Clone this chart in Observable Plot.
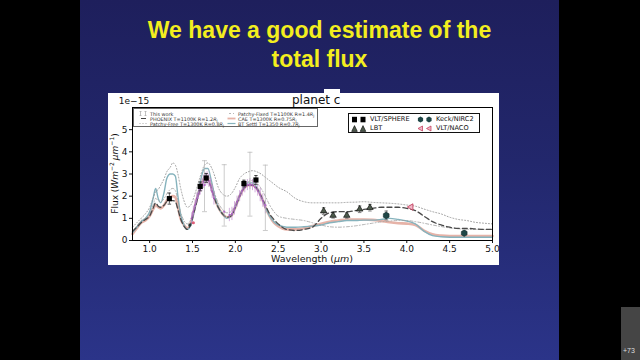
<!DOCTYPE html>
<html>
<head>
<meta charset="utf-8">
<script src="https://cdn.jsdelivr.net/npm/d3@7"></script>
<script src="https://cdn.jsdelivr.net/npm/@observablehq/plot@0.6"></script>
<style>
  html, body { margin: 0; padding: 0; }
  body { width: 640px; height: 360px; background: #000; overflow: hidden; position: relative; font-family: "DejaVu Sans", sans-serif; }
  #slide { position: absolute; left: 80px; top: 0; width: 479px; height: 360px;
           background: linear-gradient(180deg, #1e1f5c 0%, #22276c 45%, #2b3489 100%); }
  #title { position: absolute; left: 80px; width: 479px; top: 16px; text-align: center;
           font-family: "Liberation Sans", Arial, sans-serif; font-weight: bold; font-size: 23px;
           line-height: 29px; color: #f3ee1e; }
  #chart { position: absolute; left: 108px; top: 93px; width: 391px; height: 172px; background: #fff; }
  #tab { position: absolute; left: 324px; top: 89px; width: 16px; height: 6px; background: #fff; }
  #planet { position: absolute; left: 184px; top: 0px; font-size: 12px; color: #111; }
  .legend { position: absolute; background: #fff; box-sizing: border-box; }
  #legA { left: 25px; top: 15px; width: 185px; height: 19px; border: 1px solid #666; font-size: 4.9px; color: #333; }
  #legB { left: 240px; top: 20px; width: 132px; height: 20px; border: 1px solid #111; font-size: 6.6px; color: #111; }
  .item { position: absolute; white-space: nowrap; display: flex; align-items: center; }
  .item svg { margin-right: 2px; flex: none; }
  #tile { position: absolute; left: 621px; top: 307px; width: 19px; height: 53px; background: #454545; }
  #count { position: absolute; left: 623px; top: 347px; font-size: 7px; color: #ddd; font-family: "Liberation Sans", sans-serif; }
</style>
</head>
<body>
<div id="slide"></div>
<div id="title">We have a good estimate of the<br>total flux</div>
<div id="tab"></div>
<div id="chart"></div>
<div id="tile"></div>
<div id="count">+73</div>
<script>
// Model wavelength grid (micron) shared by all synthetic spectra
const wl = [0.80,0.85,0.90,0.95,1.00,1.04,1.07,1.10,1.13,1.17,1.20,1.24,1.27,1.30,1.33,1.36,1.40,1.44,1.48,1.52,1.56,1.60,1.64,1.68,1.72,1.76,1.80,1.85,1.90,1.95,2.00,2.05,2.10,2.15,2.20,2.25,2.30,2.35,2.40,2.45,2.50,2.60,2.70,2.80,2.90,3.00,3.10,3.20,3.30,3.40,3.50,3.60,3.70,3.80,3.90,4.00,4.10,4.20,4.30,4.40,4.50,4.60,4.70,4.80,4.90,5.00];

// Model fluxes (units of 1e-15 W m^-2 um^-1)
const btSettl = [0.35,0.6,0.85,1.0,1.3,1.9,2.35,1.9,1.7,2.2,2.8,3.0,3.0,2.9,2.0,1.2,0.7,0.5,0.7,1.3,2.0,2.8,3.25,3.25,2.7,2.0,1.5,1.2,1.0,1.1,1.5,2.0,2.4,2.6,2.6,2.4,2.0,1.5,1.1,0.85,0.7,0.6,0.6,0.62,0.65,0.7,0.8,0.85,0.9,0.9,0.92,0.92,0.95,1.0,0.95,0.88,0.75,0.42,0.22,0.17,0.15,0.15,0.15,0.15,0.15,0.15];
const cae = [0.3,0.55,0.8,0.9,1.1,1.4,1.6,1.5,1.45,1.6,1.8,1.95,2.0,1.95,1.5,1.0,0.7,0.55,0.8,1.4,2.0,2.5,2.75,2.75,2.4,1.9,1.5,1.2,1.05,1.1,1.5,2.0,2.35,2.5,2.5,2.35,2.0,1.5,1.1,0.8,0.65,0.5,0.5,0.55,0.65,0.75,0.85,0.9,0.95,0.95,0.95,0.93,0.88,0.82,0.78,0.76,0.7,0.45,0.28,0.22,0.2,0.2,0.2,0.2,0.2,0.2];
const phoenix = [0.4,0.6,0.8,0.95,1.1,1.45,1.7,1.55,1.5,1.6,1.75,1.8,1.8,1.75,1.4,1.0,0.65,0.5,0.75,1.3,1.9,2.45,2.7,2.7,2.35,1.85,1.5,1.2,1.05,1.1,1.5,2.0,2.35,2.5,2.5,2.35,2.0,1.6,1.2,0.95,0.75,0.5,0.45,0.5,0.6,1.0,1.25,1.3,1.3,1.35,1.4,1.45,1.5,1.5,1.5,1.45,1.35,1.1,0.85,0.7,0.6,0.55,0.55,0.52,0.5,0.5];
const patchyFree = [0.6,0.8,1.0,1.2,1.5,1.9,2.2,2.3,2.5,2.8,3.1,3.3,3.5,3.4,3.0,2.4,1.8,1.5,1.6,2.0,2.5,3.0,3.4,3.5,3.3,2.9,2.4,2.1,2.0,2.1,2.4,2.8,3.0,3.1,3.15,3.1,3.0,2.85,2.7,2.55,2.4,2.2,1.9,1.75,1.7,1.7,1.7,1.7,1.72,1.73,1.75,1.72,1.7,1.68,1.65,1.6,1.55,1.42,1.3,1.2,1.05,0.95,0.9,0.82,0.78,0.75];
const patchyFixed = [0.45,0.65,0.9,1.0,1.2,1.6,1.9,1.8,1.75,1.9,2.1,2.3,2.35,2.25,1.8,1.3,0.9,0.75,0.95,1.5,2.1,2.6,2.9,2.9,2.6,2.1,1.7,1.4,1.25,1.3,1.65,2.1,2.45,2.65,2.7,2.6,2.35,2.0,1.6,1.3,1.1,1.0,0.95,0.9,0.8,0.7,0.62,0.6,0.62,0.66,0.72,0.78,0.84,0.88,0.9,0.9,0.85,0.78,0.7,0.63,0.57,0.53,0.5,0.5,0.5,0.5];

// SPHERE IFS/IRDIS low-resolution spectrum ("This work", purple)
const specWl   = [1.49,1.51,1.53,1.55,1.57,1.59,1.61,1.63,1.65,1.67,1.69,1.71,1.73,1.75,1.93,1.96,1.99,2.02,2.05,2.08,2.11,2.14,2.17,2.20,2.23,2.26,2.29,2.32,2.35];
const specFlux = [1.0,1.3,1.6,1.9,2.1,2.3,2.5,2.65,2.75,2.8,2.7,2.5,2.2,1.9,1.15,1.2,1.45,1.75,2.0,2.25,2.4,2.5,2.55,2.5,2.4,2.25,2.05,1.8,1.5];
const specErr  = [0.25,0.25,0.25,0.25,0.25,0.25,0.3,0.3,0.3,0.3,0.3,0.3,0.3,0.3,0.3,0.3,0.3,0.25,0.25,0.25,0.25,0.25,0.25,0.25,0.25,0.25,0.3,0.3,0.3];

// Broad-band photometry of this work (grey, large uncertainties)
const bbWl   = [1.64, 1.87, 2.17, 2.35];
const bbFlux = [2.5, 1.3, 2.5, 1.6];
const bbLo   = [1.3, 0.65, 1.1, 0.45];
const bbHi   = [3.6, 3.42, 3.98, 3.4];

// Instrument photometry
const sphereWl = [1.23, 1.59, 1.66, 2.10, 2.24];
const sphereFlux = [1.89, 2.44, 2.82, 2.57, 2.73];
const sphereErr = [0.25, 0.2, 0.2, 0.15, 0.2];
const lbtWl = [3.03, 3.14, 3.30, 3.45, 3.57];
const lbtFlux = [1.33, 1.13, 1.13, 1.41, 1.48];
const lbtErr = [0.15, 0.12, 0.12, 0.15, 0.15];
const keckWl = [3.76, 4.67];
const keckFlux = [1.13, 0.33];
const keckErr = [0.2, 0.05];
const nacoWl = [4.05];
const nacoFlux = [1.51];
const nacoErr = [0.05];
// Older narrow-band points near 1.5 um
const extraWl = [1.47, 1.51];
const extraFlux = [0.7, 0.8];
const extraColor = ["#223a3a", "#e0607a"];

const xTicks = [1.0, 1.5, 2.0, 2.5, 3.0, 3.5, 4.0, 4.5, 5.0];
const yTicks = [0, 1, 2, 3, 4, 5];

const models = [
  {name: "CAE", flux: cae, stroke: "#e6b3a8", width: 2.6, dash: null},
  {name: "BT Settl", flux: btSettl, stroke: "#86b3bd", width: 1.4, dash: null},
  {name: "Patchy-Fixed", flux: patchyFixed, stroke: "#a0a0a0", width: 0.8, dash: "3,2,1,2"},
  {name: "Patchy-Free", flux: patchyFree, stroke: "#959595", width: 0.9, dash: "1,2"},
  {name: "PHOENIX", flux: phoenix, stroke: "#4a4a4a", width: 1.3, dash: "5,3"}
];

const toRows = (xs, ys) => xs.map((x, i) => ({x, y: ys[i]}));
const spec = specWl.map((x, i) => ({x, y: specFlux[i], lo: specFlux[i] - specErr[i], hi: specFlux[i] + specErr[i]}));
const bb = bbWl.map((x, i) => ({x, y: bbFlux[i], lo: bbLo[i], hi: bbHi[i]}));
const withErr = (xs, ys, es) => xs.map((x, i) => ({x, y: ys[i], lo: ys[i] - es[i], hi: ys[i] + es[i]}));
const sphere = withErr(sphereWl, sphereFlux, sphereErr);
const lbt = withErr(lbtWl, lbtFlux, lbtErr);
const keck = withErr(keckWl, keckFlux, keckErr);
const naco = withErr(nacoWl, nacoFlux, nacoErr);
const extra = extraWl.map((x, i) => ({x, y: extraFlux[i], c: extraColor[i]}));

// Horizontal error-bar cap
const cap = {draw(ctx, size) { const w = Math.sqrt(size); ctx.moveTo(-w / 2, 0); ctx.lineTo(w / 2, 0); }};
const errMarks = (data, stroke, sw = 0.8, capW = 4) => [
  Plot.ruleX(data, {x: "x", y1: "lo", y2: "hi", stroke, strokeWidth: sw}),
  Plot.dot(data, {x: "x", y: "hi", symbol: cap, r: capW / Math.sqrt(Math.PI), stroke, strokeWidth: sw, fill: "none"}),
  Plot.dot(data, {x: "x", y: "lo", symbol: cap, r: capW / Math.sqrt(Math.PI), stroke, strokeWidth: sw, fill: "none"})
];

const W = 391, H = 172;
const M = {left: 24, right: 7, top: 14, bottom: 25};

const plot = Plot.plot({
  width: W, height: H,
  marginLeft: M.left, marginRight: M.right, marginTop: M.top, marginBottom: M.bottom,
  style: {background: "transparent", fontFamily: "DejaVu Sans, sans-serif", fontSize: "9px", color: "#111"},
  x: {domain: [0.8, 5.0], ticks: xTicks, tickFormat: d3.format(".1f"), label: null, tickSize: 3, tickPadding: 2},
  y: {domain: [0, 6], ticks: yTicks, tickFormat: d3.format("d"), label: null, tickSize: 3, tickPadding: 2},
  marks: [
    ...models.map(m => Plot.line(toRows(wl, m.flux), {
      x: "x", y: "y", stroke: m.stroke, strokeWidth: m.width, strokeDasharray: m.dash, curve: "monotone-x"
    })),
    // purple spectrum with its error bars
    Plot.ruleX(spec, {x: "x", y1: "lo", y2: "hi", stroke: "#c08ad0", strokeWidth: 0.7}),
    Plot.line(spec.slice(0, 14), {x: "x", y: "y", stroke: "#b070c4", strokeWidth: 0.9}),
    Plot.line(spec.slice(14), {x: "x", y: "y", stroke: "#b070c4", strokeWidth: 0.9}),
    Plot.dot(spec, {x: "x", y: "y", r: 0.9, fill: "#a45bb8"}),
    // grey broad-band error bars
    ...errMarks(bb, "#b4b4b4", 0.7, 5),
    Plot.dot(bb, {x: "x", y: "y", r: 1.1, fill: "#b36ac6"}),
    // instrument photometry
    ...errMarks(sphere, "#111", 0.7, 3.5),
    Plot.dot(sphere, {x: "x", y: "y", symbol: "square", r: 2.9, fill: "#000"}),
    ...errMarks(lbt, "#333", 0.6, 3.5),
    Plot.dot(lbt, {x: "x", y: "y", symbol: "triangle", r: 2.4, fill: "#4d5a4c", stroke: "#000", strokeWidth: 0.6}),
    ...errMarks(keck, "#333", 0.6, 3.5),
    Plot.dot(keck, {x: "x", y: "y", symbol: "hexagon", r: 2.9, fill: "#1e4646", stroke: "#0c2020", strokeWidth: 0.5}),
    Plot.dot(naco, {x: "x", y: "y", symbol: "triangle", rotate: -90, r: 2.4, fill: "#f0b8c8", stroke: "#c03050", strokeWidth: 0.8}),
    Plot.dot(extra, {x: "x", y: "y", r: 1.6, fill: "c"}),
    Plot.frame({stroke: "#000", strokeWidth: 1})
  ]
});

const chart = document.getElementById("chart");
chart.appendChild(plot);

// Axis labels and offset text, placed in the plot's own SVG
const svg = d3.select(plot);
const fx = M.left + (W - M.left - M.right) / 2;
const fy = M.top + (H - M.top - M.bottom) / 2;
svg.append("text").attr("x", M.left + 2).attr("y", 11).attr("font-size", 9).attr("fill", "#111").text("1e\u221215");

const xl = svg.append("text").attr("x", fx).attr("y", H - 3).attr("text-anchor", "middle").attr("font-size", 9.5).attr("fill", "#111");
xl.append("tspan").text("Wavelength (");
xl.append("tspan").attr("font-style", "italic").text("\u03bcm");
xl.append("tspan").text(")");

const yl = svg.append("text").attr("transform", `translate(10,${fy}) rotate(-90)`).attr("text-anchor", "middle").attr("font-size", 9).attr("fill", "#111");
yl.append("tspan").text("Flux (");
yl.append("tspan").attr("font-style", "italic").text("Wm");
yl.append("tspan").attr("font-size", 6).attr("dy", -4).text("\u22122");
yl.append("tspan").attr("font-style", "italic").attr("dy", 4).attr("dx", 2).text("\u03bcm");
yl.append("tspan").attr("font-size", 6).attr("dy", -4).text("\u22121");
yl.append("tspan").attr("dy", 4).text(")");

// Legends
function icon(kind) {
  const s = {
    errbar: '<svg width="9" height="5"><path d="M1.5 0.5v4M0.5 0.5h2M0.5 4.5h2M6.5 0.5v4M5.5 0.5h2M5.5 4.5h2" stroke="#999" stroke-width="0.6" fill="none"/></svg>',
    dash: '<svg width="9" height="5"><path d="M2 2.5h5" stroke="#444" stroke-width="1"/></svg>',
    dots: '<svg width="9" height="5"><path d="M0.5 2.5h8" stroke="#888" stroke-width="0.7" stroke-dasharray="1,2"/></svg>',
    dashdot: '<svg width="9" height="5"><path d="M2 2.5h2M6 2.5h1" stroke="#999" stroke-width="0.7"/></svg>',
    pink: '<svg width="9" height="5"><path d="M0.5 2.5h8" stroke="#e6b3a8" stroke-width="1.8"/></svg>',
    teal: '<svg width="9" height="5"><path d="M0.5 2.5h8" stroke="#86b3bd" stroke-width="1.2"/></svg>',
    square: '<svg width="17" height="7"><rect x="1" y="0.8" width="5" height="5.5" fill="#000"/><rect x="9.5" y="0.8" width="5" height="5.5" fill="#000"/></svg>',
    tri: '<svg width="17" height="7"><path d="M3.5 0.6L6.3 6.4H0.7Z M12 0.6L14.8 6.4H9.2Z" fill="#4d5a4c" stroke="#000" stroke-width="0.6"/></svg>',
    hex: '<svg width="17" height="7"><path d="M3.5 0.6l2.6 1.5v3l-2.6 1.5l-2.6-1.5v-3Z M12 0.6l2.6 1.5v3l-2.6 1.5l-2.6-1.5v-3Z" fill="#1e4646"/></svg>',
    lefttri: '<svg width="17" height="7"><path d="M1 3.5L5.5 1V6Z M9.5 3.5L14 1V6Z" fill="#f0b8c8" stroke="#c03050" stroke-width="0.7"/></svg>'
  };
  return s[kind];
}
const legA = [
  {k: "errbar", t: "This work", x: 5, y: 2},
  {k: "dash", t: "PHOENIX T=1100K R=1.2<i>R</i><sub>J</sub>", x: 5, y: 7},
  {k: "dots", t: "Patchy-Free T=1300K R=0.8<i>R</i><sub>J</sub>", x: 5, y: 12},
  {k: "dashdot", t: "Patchy-Fixed T=1100K R=1.4<i>R</i><sub>J</sub>", x: 93, y: 2},
  {k: "pink", t: "CAE T=1300K R=0.75<i>R</i><sub>J</sub>", x: 93, y: 7},
  {k: "teal", t: "BT Settl T=1350 R=0.7<i>R</i><sub>J</sub>", x: 93, y: 12}
];
const legB = [
  {k: "square", t: "VLT/SPHERE", x: 2, y: 1.5},
  {k: "tri", t: "LBT", x: 2, y: 10.5},
  {k: "hex", t: "Keck/NIRC2", x: 68, y: 1.5},
  {k: "lefttri", t: "VLT/NACO", x: 68, y: 10.5}
];
function buildLegend(id, items, lh) {
  const box = document.createElement("div");
  box.className = "legend"; box.id = id;
  for (const it of items) {
    const d = document.createElement("div");
    d.className = "item";
    d.style.left = it.x + "px"; d.style.top = it.y + "px"; d.style.height = lh + "px";
    d.innerHTML = icon(it.k) + "<span>" + it.t + "</span>";
    box.appendChild(d);
  }
  chart.appendChild(box);
}
buildLegend("legA", legA, 5);
buildLegend("legB", legB, 7);
document.querySelectorAll("#legA sub").forEach(s => { s.style.fontSize = "3.5px"; s.style.verticalAlign = "baseline"; s.style.position = "relative"; s.style.top = "1px"; });

const planet = document.createElement("div");
planet.id = "planet";
planet.textContent = "planet c";
chart.appendChild(planet);
</script>
</body>
</html>
